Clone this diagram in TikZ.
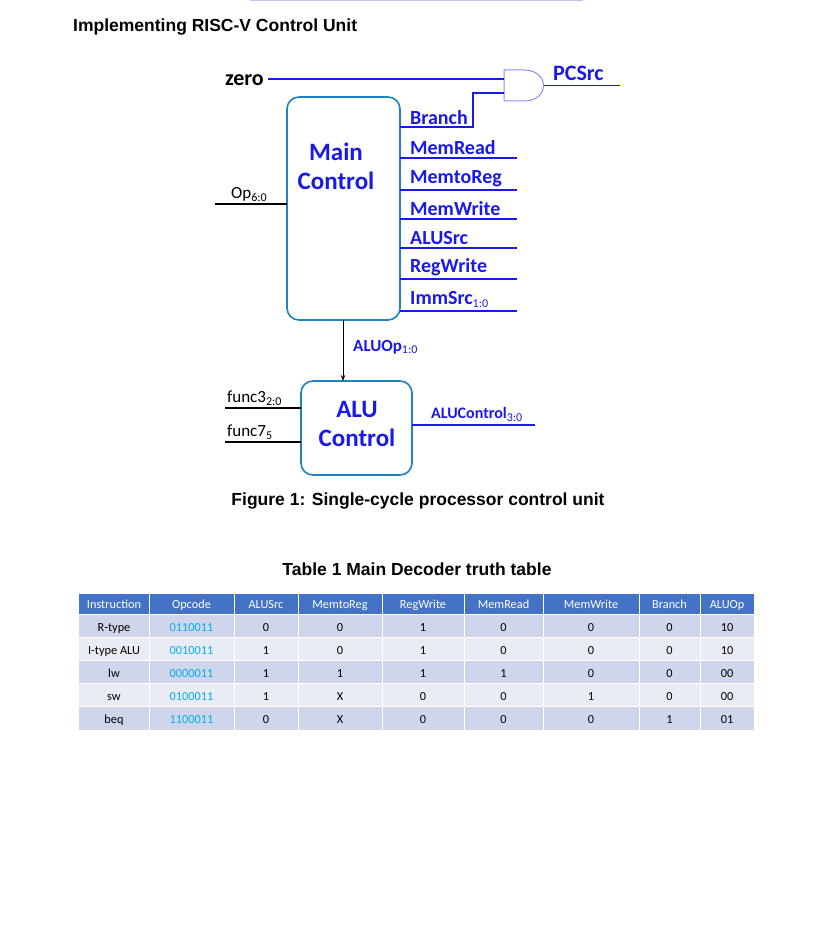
\documentclass[tikz,border=0pt]{standalone}
\usepackage{fontspec}
\setmainfont{Carlito}
\newfontfamily\arialf{Liberation Sans}
\usetikzlibrary{arrows.meta}
\newcommand\subx[1]{\raisebox{-0.35ex}{\fontsize{12}{12}\selectfont #1}}
\definecolor{sigblue}{RGB}{25,25,235}
\definecolor{boxblue}{RGB}{30,130,195}
\definecolor{hdr}{RGB}{68,114,196}
\definecolor{rowa}{RGB}{207,213,234}
\definecolor{rowb}{RGB}{233,235,245}
\definecolor{opc}{RGB}{0,176,240}
\begin{document}
\begin{tikzpicture}[x=1pt,y=-1pt,
  blk/.style={draw=boxblue,line width=1.6pt,rounded corners=12pt},
  sig/.style={draw=sigblue,line width=1.2pt},
  blk line/.style={draw=black,line width=1.2pt},
  lbl/.style={font=\fontsize{20}{20}\selectfont\bfseries,text=sigblue,anchor=south west,inner sep=1pt},
  blab/.style={font=\fontsize{17}{17}\selectfont,anchor=south,inner sep=1pt},
  big/.style={font=\fontsize{25}{29}\selectfont\bfseries,text=sigblue,align=center},
  cell/.style={font=\fontsize{12.3}{12}\selectfont,anchor=center,inner sep=0pt},
  captxt/.style={font=\arialf\fontsize{17.5}{18}\selectfont\bfseries,inner sep=0pt}]
\useasboundingbox[fill=white] (0,0) rectangle (812,928);
\draw[draw={rgb,255:red,190;green,190;blue,250},line width=1pt] (250,1) -- (583,1);
\node[captxt,anchor=west] (title) at (73,27) {Implementing RISC-V Control Unit};
% main control
\draw[blk] (287,97) rectangle (400,320);
\node[big] (main) at (336,166) {Main\\Control};
\coordinate (mc) at (343,320);
% zero & AND
\node[font=\fontsize{22}{22}\selectfont\bfseries,anchor=east,inner sep=1pt] (zero) at (265,80) {zero};
\draw[draw=sigblue!50,line width=1pt] (504,70) -- (524,70) .. controls (550,70) and (550,101) .. (524,101) -- (504,101) -- cycle;
\coordinate (g) at (544,85.5);
\draw[sig] (268,79) -- (504,79);
\draw[sig] (g) -- (620,85.5);
\node[lbl,font=\fontsize{22}{22}\selectfont\bfseries] (pcsrc) at (552,82) {PCSrc};
\draw[sig] (400,127) -- (473,127) -- (473,93) -- (504,93);
\node[lbl] (branch) at (409,126) {Branch};
\foreach \n/\t/\y in {mr/MemRead/158,mt/MemtoReg/190,mw/MemWrite/219,as/ALUSrc/248,rw/RegWrite/279,is/{ImmSrc\subx{\mdseries 1:0}}/311}{
  \draw[sig] (400,\y) -- (517,\y);
  \node[lbl] (\n) at (409,\y-2) {\t};
}
\draw[blk line] (215,204) -- (287,204);
\node[blab] (op) at (249,203) {Op\subx{6:0}};
% ALU control
\draw[blk] (301,381) rectangle (412,475);
\node[big] (alu) at (357,424) {ALU\\Control};
\draw[line width=0.9pt,-{Stealth[length=6pt]}] (mc) -- (343,381);
\node[lbl,font=\fontsize{17}{17}\selectfont\bfseries,anchor=west] (aluop) at (352,347) {ALUOp\subx{\mdseries 1:0}};
\draw[blk line] (225,408) -- (301,408);
\node[blab,anchor=south west] (f3) at (226,407) {func3\subx{2:0}};
\draw[blk line] (225,442) -- (301,442);
\node[blab,anchor=south west] (f7) at (226,441) {func7\subx{5}};
\draw[sig] (412,425) -- (535,425);
\node[lbl,font=\fontsize{16}{16}\selectfont\bfseries] (aluc) at (430,423) {ALUControl\subx{\mdseries 3:0}};
\node[captxt] (fig) at (418,501) {Figure 1: Single-cycle processor control unit};
\node[captxt] (tab) at (417,569) {Table 1 Main Decoder truth table};
% table
\def\cx{{79,149,234,298,382,464,543,639,700,754}}
\fill[hdr] (79,594) rectangle (754,614);
\foreach \i/\yt/\yb in {0/614/637,1/637/660,2/660/683,3/683/706,4/706/730}{
  \pgfmathsetmacro\odd{mod(\i,2)}
  \ifdim\odd pt=0pt \fill[rowa] (79,\yt) rectangle (754,\yb); \else \fill[rowb] (79,\yt) rectangle (754,\yb); \fi
  \draw[white,line width=1pt] (79,\yt) -- (754,\yt);
}
\foreach \x in {149,234,298,382,464,543,639,700}{\draw[white,line width=1pt] (\x,594) -- (\x,730);}
\foreach \t [count=\c from 0] in {Instruction,Opcode,ALUSrc,MemtoReg,RegWrite,MemRead,MemWrite,Branch,ALUOp}{
  \pgfmathsetmacro\xa{\cx[\c]}\pgfmathsetmacro\xb{\cx[\c+1]}
  \node[cell,text=white] at ({(\xa+\xb)/2},606.5) {\strut\t};
}
\foreach \r/\row [count=\k from 0] in {
 629/{R-type,0110011,0,0,1,0,0,0,10},
 652/{I-type ALU,0010011,1,0,1,0,0,0,10},
 675/{lw,0000011,1,1,1,1,0,0,00},
 698/{sw,0100011,1,X,0,0,1,0,00},
 721/{beq,1100011,0,X,0,0,0,1,01}}{
  \foreach \t [count=\c from 0] in \row {
    \pgfmathsetmacro\xa{\cx[\c]}\pgfmathsetmacro\xb{\cx[\c+1]}
    \ifnum\c=1 \node[cell,text=opc] at ({(\xa+\xb)/2},\r) {\strut\t};
    \else \node[cell] at ({(\xa+\xb)/2},\r) {\strut\t}; \fi
  }
}
\end{tikzpicture}
\end{document}
